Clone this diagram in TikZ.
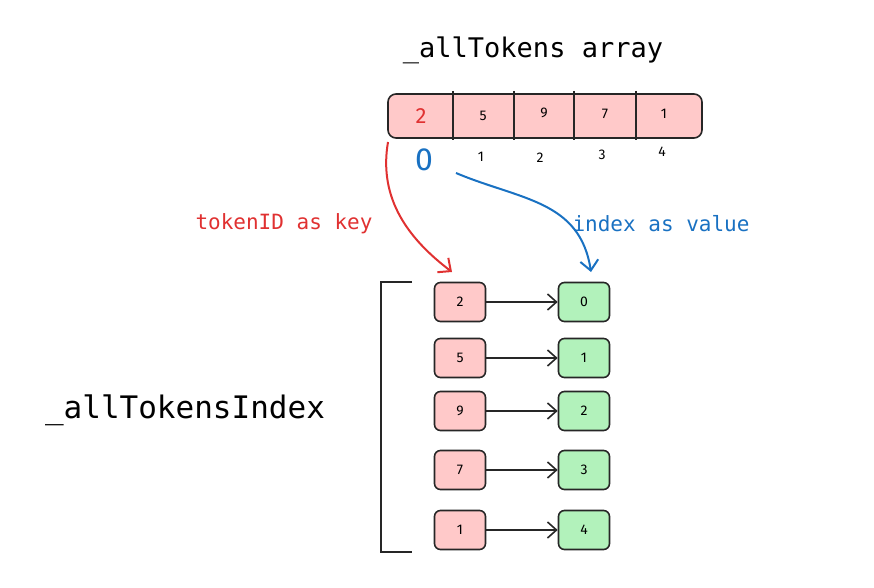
\documentclass[tikz,border=0pt]{standalone}
\usepackage{fontspec}
\setmainfont{Fira Sans}
\newfontfamily\mono{DejaVu Sans Mono}
\usetikzlibrary{arrows.meta}
\definecolor{pk}{HTML}{FFC9C9}
\definecolor{gr}{HTML}{B2F2BB}
\definecolor{rd}{HTML}{E03131}
\definecolor{bl}{HTML}{1971C2}
\begin{document}
\begin{tikzpicture}[x=1pt,y=-1pt,
 box/.style={draw=black!85,line width=1.6pt,rounded corners=6pt,minimum width=51pt,minimum height=39pt,font=\fontsize{14}{16}\selectfont},
 kbox/.style={box,fill=pk},vbox/.style={box,fill=gr},
 lnk/.style={-{Straight Barb[length=9pt,width=16pt]},line width=1.6pt,black!85},
 idx/.style={font=\fontsize{14}{16}\selectfont}]
\useasboundingbox (0,0) rectangle (874,588);
\node[font=\mono\fontsize{27}{30}\selectfont] (title) at (533,50) {\_allTokens array};
\draw[fill=pk,draw=black!85,line width=1.6pt,rounded corners=8pt] (388,94) rectangle (702,138);
\foreach \x in {453,514,574,636}{\draw[black!85,line width=1.6pt] (\x,91) -- (\x,140);}
\node[text=rd,font=\fontsize{22}{24}\selectfont] (a0) at (421,116) {2};
\node[idx] (a1) at (483,116) {5};
\node[idx] (a2) at (544,113) {9};
\node[idx] (a3) at (605,114) {7};
\node[idx] (a4) at (664,114) {1};
\node[text=bl,font=\fontsize{32}{34}\selectfont] (i0) at (424,160) {0};
\node[idx] (i1) at (481,157) {1};
\node[idx] (i2) at (540,158) {2};
\node[idx] (i3) at (602,155) {3};
\node[idx] (i4) at (662,152) {4};
\foreach \y/\k/\v [count=\i] in {302/2/0,358/5/1,411/9/2,470/7/3,530/1/4}{
 \node[kbox] (k\i) at (460,\y) {\k};
 \node[vbox] (v\i) at (584,\y) {\v};
 \draw[lnk] (k\i) -- (v\i);
}
\coordinate (rs) at (388,142);
\coordinate (bs) at (456,173);
\draw[rd,line width=2pt,-{Straight Barb[length=10pt,width=18pt]}] (rs) .. controls (378,200) and (410,240) .. (452,272);
\draw[bl,line width=2pt,-{Straight Barb[length=10pt,width=18pt]}] (bs) .. controls (520,200) and (580,200) .. (591,272);
\node[text=rd,font=\mono\fontsize{21}{24}\selectfont] (lk) at (284,224) {tokenID as key};
\node[text=bl,font=\mono\fontsize{21}{24}\selectfont] (lv) at (661,224) {index as value};
\draw[black!85,line width=2.6pt] (412,282) -- (381,282) -- (381,552) -- (412,552);
\node[font=\mono\fontsize{31}{34}\selectfont] (idxname) at (185,410) {\_allTokensIndex};
\end{tikzpicture}
\end{document}
